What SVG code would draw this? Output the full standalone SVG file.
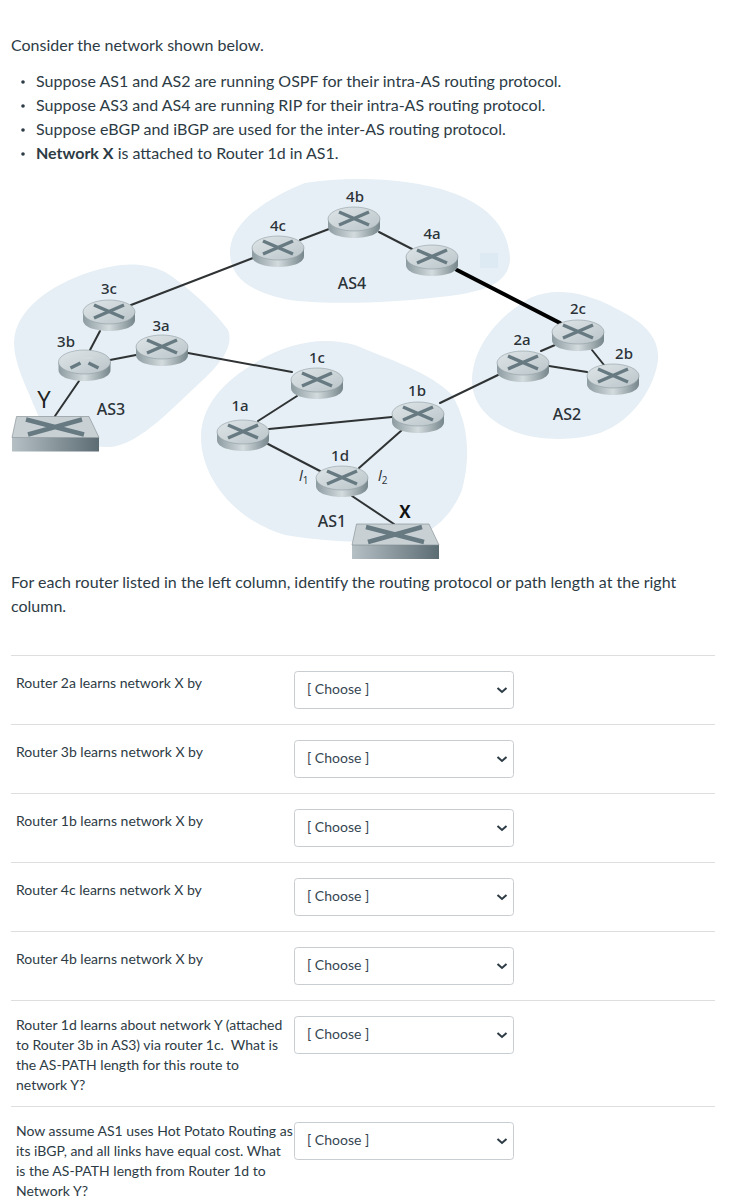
<svg xmlns="http://www.w3.org/2000/svg" width="731" height="1204" viewBox="0 0 731 1204">
<style>
text{font-family:"Lato","Liberation Sans",sans-serif;fill:#2d3b45;white-space:pre}
.m{font-size:16px}
.q{font-size:14px}
.c{font-size:14px;fill:#364652}
.l{font-family:"Noto Sans","Open Sans",sans-serif;font-size:15px;font-weight:500;fill:#2b3238;text-anchor:middle}
.a{font-size:16px}
.i{font-family:"Open Sans",sans-serif;font-size:15px;font-style:italic;fill:#2b3238}
.blob{fill:#e6eff5}
.e{stroke:#2f3334;stroke-width:2;fill:none;stroke-linecap:round}
.sep{stroke:#dedede;stroke-width:1}
.sel{fill:#fff;stroke:#c7cdd1;stroke-width:1}
.chev{fill:none;stroke:#2d3b45;stroke-width:2}
.xm{stroke:#677a82;stroke-width:3.500;fill:none}
</style>
<defs>
<linearGradient id="side" x1="0" x2="1" y1="0" y2="0"><stop offset="0" stop-color="#8d9ca1"/><stop offset=".5" stop-color="#d3dbde"/><stop offset="1" stop-color="#76868b"/></linearGradient>
<linearGradient id="top" x1="0" x2="1" y1="0" y2="1"><stop offset="0" stop-color="#dfe5e8"/><stop offset="1" stop-color="#bac5c9"/></linearGradient>
<linearGradient id="sw" x1="0" x2="1" y1="0" y2="0"><stop offset="0" stop-color="#b5c0c5"/><stop offset="1" stop-color="#5c6c73"/></linearGradient>
<g id="r">
<path d="M-26 12V20C-26 27 -14 31 0 31S26 27 26 20V12Z" fill="url(#side)"/>
<ellipse cx="0" cy="12" rx="26" ry="12" fill="url(#top)" stroke="#8f9da2" stroke-width=".6"/>
<path class="xm" d="M-15 18L15 5M-15 5L15 18"/>
</g>
<g id="rf">
<path d="M-26 12V20C-26 27 -14 31 0 31S26 27 26 20V12Z" fill="url(#side)"/>
<ellipse cx="0" cy="12" rx="26" ry="12" fill="url(#top)" stroke="#8f9da2" stroke-width=".6"/>
<path class="xm" d="M-14 18L-4 13M14 18L4 13"/>
<path d="M-8 8L8 8" stroke="#d2dadd" stroke-width="2"/>
</g>
<g id="s">
<path d="M0 21H87V35H0Z" fill="url(#sw)"/>
<path d="M4.500 0H77L87 21H0Z" fill="#c8d0d4" stroke="#7d8a8f" stroke-width=".6"/>
<path d="M14 3L72 18M70 3L16 18" stroke="#677a82" stroke-width="4.500" fill="none"/>
</g>
</defs>
<rect width="731" height="1204" fill="#fff"/>

<g id="intro">
<text class="m" x="11" y="51">Consider the network shown below.</text>
<circle cx="23" cy="82" r="1.800" fill="#2d3b45"/><text class="m" x="36" y="87">Suppose AS1 and AS2 are running OSPF for their intra-AS routing protocol.</text>
<circle cx="23" cy="106" r="1.800" fill="#2d3b45"/><text class="m" x="36" y="111">Suppose AS3 and AS4 are running RIP for their intra-AS routing protocol.</text>
<circle cx="23" cy="130" r="1.800" fill="#2d3b45"/><text class="m" x="36" y="135">Suppose eBGP and iBGP are used for the inter-AS routing protocol.</text>
<circle cx="23" cy="154" r="1.800" fill="#2d3b45"/><text class="m" x="36" y="159"><tspan font-weight="700">Network X</tspan> is attached to Router 1d in AS1.</text>
</g>

<g id="regions">
<path id="as3" class="blob" d="M14 342C15 310 50 285 90 272C115 264 140 260 165 272C190 288 215 312 228 330C234 345 222 362 205 378C175 405 140 445 110 447C85 447 50 440 38 415C28 390 14 365 14 342Z"/>
<path id="as4" class="blob" d="M230 250C232 220 270 197 305 183C350 176 410 178 450 192C485 204 508 225 510 258C510 285 480 293 440 297C390 303 330 305 290 300C250 292 229 278 230 250Z"/>
<rect x="480" y="253" width="18" height="15" fill="#dde9f3"/>
<path id="as1" class="blob" d="M201 440C200 405 225 380 260 360C285 345 320 335 355 345C390 360 430 372 452 395C470 425 470 460 462 490C450 520 425 540 395 542C360 543 320 541 285 535C235 520 203 480 201 440Z"/>
<path id="as2" class="blob" d="M472 380C473 345 500 315 530 298C555 287 585 292 615 308C640 320 660 335 658 360C655 385 635 420 600 433C575 441 540 441 515 432C490 422 472 405 472 380Z"/>
</g>

<g id="connectors">
<path class="e" d="M131 305L253 258"/>
<path class="e" d="M100 331L90 350"/>
<path class="e" d="M110 360L136 355"/>
<path class="e" d="M188 353L292 372"/>
<path class="e" d="M79 381L55 416"/>
<path class="e" d="M297 396L258 421"/>
<path class="e" d="M269 429L392 417"/>
<path class="e" d="M268 444L320 471"/>
<path class="e" d="M359 468L402 430"/>
<path class="e" d="M352 496L394 524"/>
<path class="e" d="M440 403L498 375"/>
<path class="e" d="M541 351L555 345"/>
<path class="e" d="M549 366L587 372"/>
<path class="e" d="M592 350L604 365"/>
<path class="e" d="M300 240L329 229"/>
<path class="e" d="M379 232L412 249"/>
<path class="e" d="M457 270L560 323" style="stroke:#000;stroke-width:4"/>
</g>

<g id="r3c"><use href="#r" x="109" y="300"/><text class="l" x="109" y="294">3c</text></g>
<g id="r3a"><use href="#r" x="162" y="335"/><text class="l" x="161" y="331">3a</text></g>
<g id="r3b"><use href="#rf" x="84.500" y="350"/><text class="l" x="66" y="347">3b</text></g>
<g id="swY"><use href="#s" x="12" y="416.500"/><text x="44" y="408" text-anchor="middle" style="font-family:'Open Sans',sans-serif;font-size:24px;fill:#222">Y</text></g>
<text id="lAS3" class="l a" x="111" y="415">AS3</text>

<g id="r4c"><use href="#r" x="278" y="236"/><text class="l" x="278" y="231">4c</text></g>
<g id="r4b"><use href="#r" x="354" y="207"/><text class="l" x="355" y="202">4b</text></g>
<g id="r4a"><use href="#r" x="432" y="245"/><text class="l" x="432" y="239">4a</text></g>
<text id="lAS4" class="l a" x="352" y="289">AS4</text>

<g id="r1c"><use href="#r" x="317" y="368"/><text class="l" x="317" y="363">1c</text></g>
<g id="r1a"><use href="#r" x="243" y="420"/><text class="l" x="240" y="411">1a</text></g>
<g id="r1b"><use href="#r" x="418" y="402"/><text class="l" x="417" y="396">1b</text></g>
<g id="r1d"><use href="#r" x="342" y="466"/><text class="l" x="340" y="461">1d</text></g>
<text id="i1" class="i" x="299" y="481">l<tspan font-size="10" font-style="normal" dy="3">1</tspan></text>
<text id="i2" class="i" x="378" y="481">l<tspan font-size="10" font-style="normal" dy="3">2</tspan></text>
<g id="swX"><use href="#s" x="352" y="524"/><text x="405" y="518" text-anchor="middle" style="font-family:'Open Sans',sans-serif;font-size:17px;font-weight:700;fill:#111">X</text></g>
<text id="lAS1" class="l a" x="332" y="527">AS1</text>

<g id="r2c"><use href="#r" x="578" y="320"/><text class="l" x="578" y="314">2c</text></g>
<g id="r2a"><use href="#r" x="523" y="351"/><text class="l" x="522" y="345">2a</text></g>
<g id="r2b"><use href="#r" x="613" y="364"/><text class="l" x="624" y="359">2b</text></g>
<text id="lAS2" class="l a" x="567" y="420">AS2</text>

<g id="para">
<text class="m" x="11" y="588">For each router listed in the left column, identify the routing protocol or path length at the right</text>
<text class="m" x="11" y="612">column.</text>
</g>

<g id="separators">
<path class="sep" d="M11 655.500H715M11 724.500H715M11 793.500H715M11 862.500H715M11 931.500H715M11 1000.500H715M11 1106.500H715"/>
</g>

<g id="questions">
<text class="q" x="16" y="688">Router 2a learns network X by</text>
<text class="q" x="16" y="757">Router 3b learns network X by</text>
<text class="q" x="16" y="826">Router 1b learns network X by</text>
<text class="q" x="16" y="895">Router 4c learns network X by</text>
<text class="q" x="16" y="964">Router 4b learns network X by</text>
<text class="q" x="16" y="1030">Router 1d learns about network Y (attached</text>
<text class="q" x="16" y="1050">to Router 3b in AS3) via router 1c.  What is</text>
<text class="q" x="16" y="1070">the AS-PATH length for this route to</text>
<text class="q" x="16" y="1090">network Y?</text>
<text class="q" x="16" y="1136">Now assume AS1 uses Hot Potato Routing as</text>
<text class="q" x="16" y="1156">its iBGP, and all links have equal cost. What</text>
<text class="q" x="16" y="1176">is the AS-PATH length from Router 1d to</text>
<text class="q" x="16" y="1196">Network Y?</text>
</g>

<g id="select1"><rect class="sel" x="294.500" y="671.500" width="219" height="37" rx="3"/><text class="c" x="307" y="694">[ Choose ]</text><path class="chev" d="M497.500 688L502 692L506.500 688"/></g>
<g id="select2"><rect class="sel" x="294.500" y="740.500" width="219" height="37" rx="3"/><text class="c" x="307" y="763">[ Choose ]</text><path class="chev" d="M497.500 757L502 761L506.500 757"/></g>
<g id="select3"><rect class="sel" x="294.500" y="809.500" width="219" height="37" rx="3"/><text class="c" x="307" y="832">[ Choose ]</text><path class="chev" d="M497.500 826L502 830L506.500 826"/></g>
<g id="select4"><rect class="sel" x="294.500" y="878.500" width="219" height="37" rx="3"/><text class="c" x="307" y="901">[ Choose ]</text><path class="chev" d="M497.500 895L502 899L506.500 895"/></g>
<g id="select5"><rect class="sel" x="294.500" y="947.500" width="219" height="37" rx="3"/><text class="c" x="307" y="970">[ Choose ]</text><path class="chev" d="M497.500 964L502 968L506.500 964"/></g>
<g id="select6"><rect class="sel" x="294.500" y="1016.500" width="219" height="37" rx="3"/><text class="c" x="307" y="1039">[ Choose ]</text><path class="chev" d="M497.500 1033L502 1037L506.500 1033"/></g>
<g id="select7"><rect class="sel" x="294.500" y="1122.500" width="219" height="37" rx="3"/><text class="c" x="307" y="1145">[ Choose ]</text><path class="chev" d="M497.500 1139L502 1143L506.500 1139"/></g>
</svg>
